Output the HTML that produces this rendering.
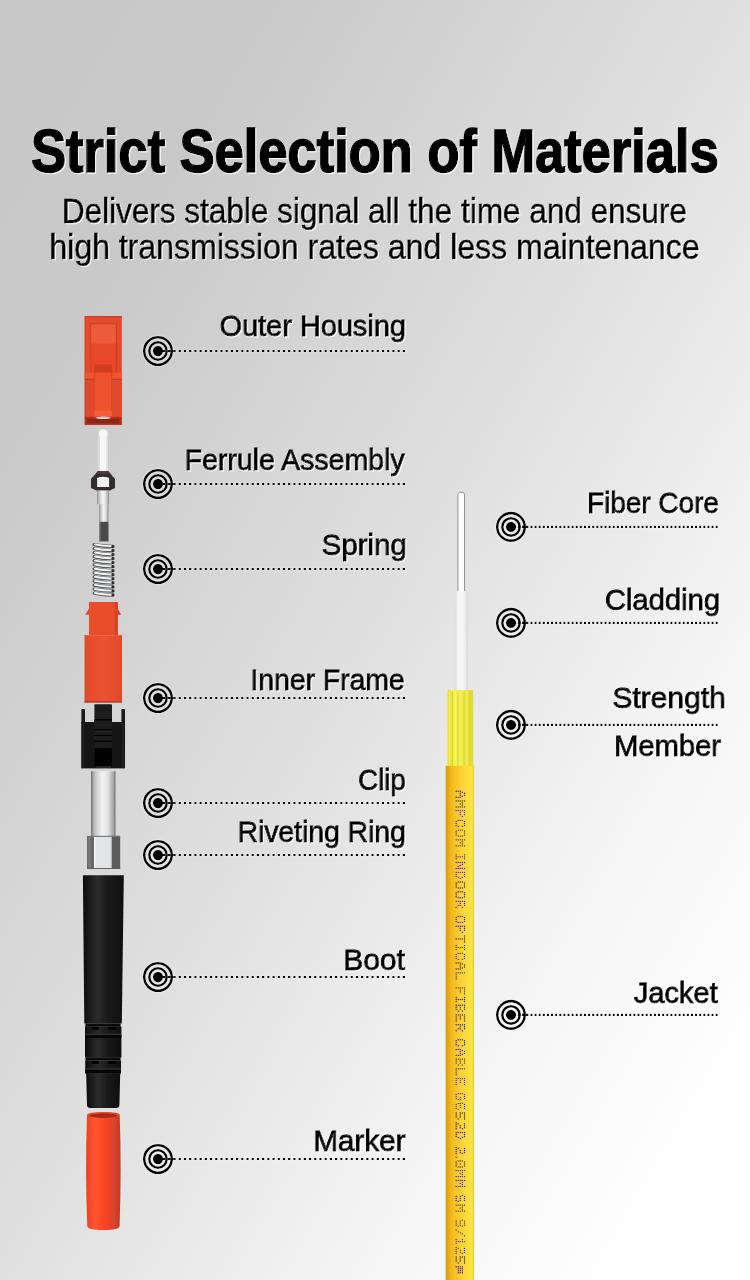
<!DOCTYPE html>
<html><head><meta charset="utf-8">
<style>
html,body{margin:0;padding:0;}
body{width:750px;height:1280px;overflow:hidden;position:relative;
background:linear-gradient(to bottom right,#c8c8c8 0%,#c9c9c9 18%,#e0e0e0 50%,#f6f6f6 75%,#ffffff 92%);
font-family:"Liberation Sans",sans-serif;}
svg{position:absolute;left:0;top:0;}
</style></head>
<body>
<svg width="750" height="1280" viewBox="0 0 750 1280">
<defs>
<filter id="sh" x="-5%" y="-30%" width="110%" height="160%">
<feOffset dx="1.3" dy="1.3" in="SourceAlpha" result="o"/>
<feFlood flood-color="#fff"/><feComposite in2="o" operator="in" result="w"/>
<feMerge><feMergeNode in="w"/><feMergeNode in="SourceGraphic"/></feMerge>
</filter>
<filter id="glow" x="-5%" y="-50%" width="110%" height="200%">
<feGaussianBlur in="SourceAlpha" stdDeviation="0.8" result="bd"/>
<feFlood flood-color="#fff" flood-opacity="0.7"/><feComposite in2="bd" operator="in" result="w"/>
<feMerge><feMergeNode in="w"/><feMergeNode in="SourceGraphic"/></feMerge>
</filter>
<clipPath id="iconclip"><rect x="150" y="0" width="24" height="1280"/><rect x="503" y="0" width="24" height="1280"/></clipPath>
<g id="tgt">
<circle cx="0" cy="0" r="13.75" fill="none" stroke="#000" stroke-width="2.6"/>
<circle cx="0" cy="0" r="8.7" fill="none" stroke="#000" stroke-width="2.6"/>
<circle cx="0" cy="0" r="5.15" fill="#000"/>
</g>
<linearGradient id="gSilver" x1="0" x2="1" y1="0" y2="0">
<stop offset="0" stop-color="#8c8c8c"/><stop offset="0.18" stop-color="#c8c8c8"/><stop offset="0.45" stop-color="#f4f4f4"/><stop offset="0.7" stop-color="#e2e2e2"/><stop offset="1" stop-color="#8e8e8e"/>
</linearGradient>
<linearGradient id="gBlack" x1="0" x2="1" y1="0" y2="0">
<stop offset="0" stop-color="#0c0c0c"/><stop offset="0.35" stop-color="#2a2b2c"/><stop offset="0.6" stop-color="#1a1a1b"/><stop offset="1" stop-color="#0e0e0e"/>
</linearGradient>
<linearGradient id="gRed" x1="0" x2="1" y1="0" y2="0">
<stop offset="0" stop-color="#f0401e"/><stop offset="0.25" stop-color="#ff5432"/><stop offset="0.55" stop-color="#f8441f"/><stop offset="0.8" stop-color="#d84530"/><stop offset="1" stop-color="#c23a22"/>
</linearGradient>
<linearGradient id="gOrange" x1="0" x2="1" y1="0" y2="0">
<stop offset="0" stop-color="#e24a2a"/><stop offset="0.5" stop-color="#ea5232"/><stop offset="1" stop-color="#e04a2c"/>
</linearGradient>
<linearGradient id="gCore" x1="0" x2="1" y1="0" y2="0">
<stop offset="0" stop-color="#a8a8a8"/><stop offset="0.4" stop-color="#ffffff"/><stop offset="0.7" stop-color="#f0f0f0"/><stop offset="1" stop-color="#b8b8b8"/>
</linearGradient>
<linearGradient id="gClad" x1="0" x2="1" y1="0" y2="0">
<stop offset="0" stop-color="#dcdcdc"/><stop offset="0.3" stop-color="#f6f6f6"/><stop offset="0.7" stop-color="#f4f4f4"/><stop offset="1" stop-color="#d8d8d8"/>
</linearGradient>
<linearGradient id="gJacket" x1="0" x2="1" y1="0" y2="0">
<stop offset="0" stop-color="#d49c0a"/><stop offset="0.2" stop-color="#f2b81e"/><stop offset="0.55" stop-color="#fdd232"/><stop offset="0.9" stop-color="#ffe444"/><stop offset="1" stop-color="#e8cc40"/>
</linearGradient>
<linearGradient id="gStrength" x1="0" x2="1" y1="0" y2="0">
<stop offset="0" stop-color="#e6e030"/><stop offset="0.3" stop-color="#f4f050"/><stop offset="0.6" stop-color="#eeea48"/><stop offset="1" stop-color="#e2da30"/>
</linearGradient>
<pattern id="dotpat" x="0" y="0" width="2" height="2" patternUnits="userSpaceOnUse">
<circle cx="1" cy="1" r="0.62" fill="#fff"/>
</pattern>
<mask id="dotmask" maskUnits="userSpaceOnUse" x="440" y="760" width="40" height="520">
<rect x="440" y="760" width="40" height="520" fill="url(#dotpat)"/>
</mask>

</defs>
<g filter="url(#sh)" fill="#000" font-family="Liberation Sans">
<text x="31.14" y="171.8" font-size="61.2" font-weight="bold" stroke="#000" stroke-width="1.7" textLength="687.72" lengthAdjust="spacingAndGlyphs">Strict Selection of Materials</text>
<text x="62.0" y="222.7" font-size="35" font-weight="normal" stroke="#000" stroke-width="0.65" textLength="624.98" lengthAdjust="spacingAndGlyphs">Delivers stable signal all the time and ensure</text>
<text x="49.47" y="258.7" font-size="35" font-weight="normal" stroke="#000" stroke-width="0.65" textLength="650.25" lengthAdjust="spacingAndGlyphs">high transmission rates and less maintenance</text>
</g>
<g filter="url(#sh)" fill="#000" font-family="Liberation Sans">
<text x="219.74" y="336" font-size="30" font-weight="normal" stroke="#000" stroke-width="0.95" textLength="186.35" lengthAdjust="spacingAndGlyphs">Outer Housing</text>
<text x="184.8" y="469.8" font-size="30" font-weight="normal" stroke="#000" stroke-width="0.95" textLength="219.96" lengthAdjust="spacingAndGlyphs">Ferrule Assembly</text>
<text x="321.72" y="555.2" font-size="30" font-weight="normal" stroke="#000" stroke-width="0.95" textLength="85.27" lengthAdjust="spacingAndGlyphs">Spring</text>
<text x="250.61" y="690.1" font-size="30" font-weight="normal" stroke="#000" stroke-width="0.95" textLength="154.16" lengthAdjust="spacingAndGlyphs">Inner Frame</text>
<text x="358.18" y="790" font-size="30" font-weight="normal" stroke="#000" stroke-width="0.95" textLength="47.66" lengthAdjust="spacingAndGlyphs">Clip</text>
<text x="237.71" y="841.6" font-size="30" font-weight="normal" stroke="#000" stroke-width="0.95" textLength="168.33" lengthAdjust="spacingAndGlyphs">Riveting Ring</text>
<text x="343.51" y="969.9" font-size="30" font-weight="normal" stroke="#000" stroke-width="0.95" textLength="61.51" lengthAdjust="spacingAndGlyphs">Boot</text>
<text x="313.42" y="1151.4" font-size="30" font-weight="normal" stroke="#000" stroke-width="0.95" textLength="92.22" lengthAdjust="spacingAndGlyphs">Marker</text>
<text x="587.34" y="513.1" font-size="30" font-weight="normal" stroke="#000" stroke-width="0.95" textLength="131.63" lengthAdjust="spacingAndGlyphs">Fiber Core</text>
<text x="604.93" y="609.5" font-size="30" font-weight="normal" stroke="#000" stroke-width="0.95" textLength="115.26" lengthAdjust="spacingAndGlyphs">Cladding</text>
<text x="612.5" y="708.3" font-size="30" font-weight="normal" stroke="#000" stroke-width="0.95" textLength="113.42" lengthAdjust="spacingAndGlyphs">Strength</text>
<text x="614.26" y="756" font-size="30" font-weight="normal" stroke="#000" stroke-width="0.95" textLength="106.77" lengthAdjust="spacingAndGlyphs">Member</text>
<text x="633.9" y="1003.4" font-size="30" font-weight="normal" stroke="#000" stroke-width="0.95" textLength="83.83" lengthAdjust="spacingAndGlyphs">Jacket</text>
</g>
<g stroke="#000" filter="url(#glow)">
<line x1="405" y1="351" x2="158" y2="351" stroke-width="2.1" stroke-dasharray="2.3 2.911"/>
<line x1="405" y1="484" x2="158" y2="484" stroke-width="2.1" stroke-dasharray="2.3 2.911"/>
<line x1="405" y1="569" x2="158" y2="569" stroke-width="2.1" stroke-dasharray="2.3 2.911"/>
<line x1="405" y1="698" x2="158" y2="698" stroke-width="2.1" stroke-dasharray="2.3 2.911"/>
<line x1="405" y1="803" x2="158" y2="803" stroke-width="2.1" stroke-dasharray="2.3 2.911"/>
<line x1="405" y1="855" x2="158" y2="855" stroke-width="2.1" stroke-dasharray="2.3 2.911"/>
<line x1="405" y1="977" x2="158" y2="977" stroke-width="2.1" stroke-dasharray="2.3 2.911"/>
<line x1="405" y1="1159" x2="158" y2="1159" stroke-width="2.1" stroke-dasharray="2.3 2.911"/>
<line x1="717.7" y1="526.9" x2="511" y2="526.9" stroke-width="2.1" stroke-dasharray="2.1 2.015"/>
<line x1="717.7" y1="622.9" x2="511" y2="622.9" stroke-width="2.1" stroke-dasharray="2.1 2.015"/>
<line x1="717.7" y1="724.9" x2="511" y2="724.9" stroke-width="2.1" stroke-dasharray="2.1 2.015"/>
<line x1="717.7" y1="1014.9" x2="511" y2="1014.9" stroke-width="2.1" stroke-dasharray="2.1 2.015"/>
</g>
<g filter="url(#glow)">
<use href="#tgt" x="158" y="351"/>
<use href="#tgt" x="158" y="484"/>
<use href="#tgt" x="158" y="569"/>
<use href="#tgt" x="158" y="698"/>
<use href="#tgt" x="158" y="803"/>
<use href="#tgt" x="158" y="855"/>
<use href="#tgt" x="158" y="977"/>
<use href="#tgt" x="158" y="1159"/>
<use href="#tgt" x="511" y="526.9"/>
<use href="#tgt" x="511" y="622.9"/>
<use href="#tgt" x="511" y="724.9"/>
<use href="#tgt" x="511" y="1014.9"/>
</g>
<g stroke="#000" clip-path="url(#iconclip)">
<line x1="405" y1="351" x2="158" y2="351" stroke-width="2.1" stroke-dasharray="2.3 2.911"/>
<line x1="405" y1="484" x2="158" y2="484" stroke-width="2.1" stroke-dasharray="2.3 2.911"/>
<line x1="405" y1="569" x2="158" y2="569" stroke-width="2.1" stroke-dasharray="2.3 2.911"/>
<line x1="405" y1="698" x2="158" y2="698" stroke-width="2.1" stroke-dasharray="2.3 2.911"/>
<line x1="405" y1="803" x2="158" y2="803" stroke-width="2.1" stroke-dasharray="2.3 2.911"/>
<line x1="405" y1="855" x2="158" y2="855" stroke-width="2.1" stroke-dasharray="2.3 2.911"/>
<line x1="405" y1="977" x2="158" y2="977" stroke-width="2.1" stroke-dasharray="2.3 2.911"/>
<line x1="405" y1="1159" x2="158" y2="1159" stroke-width="2.1" stroke-dasharray="2.3 2.911"/>
<line x1="717.7" y1="526.9" x2="511" y2="526.9" stroke-width="2.1" stroke-dasharray="2.1 2.015"/>
<line x1="717.7" y1="622.9" x2="511" y2="622.9" stroke-width="2.1" stroke-dasharray="2.1 2.015"/>
<line x1="717.7" y1="724.9" x2="511" y2="724.9" stroke-width="2.1" stroke-dasharray="2.1 2.015"/>
<line x1="717.7" y1="1014.9" x2="511" y2="1014.9" stroke-width="2.1" stroke-dasharray="2.1 2.015"/>
</g>
<g id="housing">
<rect x="84.7" y="316.2" width="37.1" height="108.7" fill="#e64a2c"/>
<rect x="84.7" y="316.2" width="37.1" height="1.2" fill="#c83a22"/>
<rect x="84.7" y="317" width="1.2" height="100" fill="#d8452a"/>
<rect x="90.3" y="323.3" width="26.9" height="49.3" fill="#c94024"/>
<rect x="91.3" y="324.5" width="24.4" height="48" fill="#e64a2b"/>
<rect x="91.3" y="324.5" width="24.4" height="19" fill="#ee5b3c"/>
<rect x="84.7" y="372.6" width="37.1" height="6.2" fill="#f0552f"/>
<rect x="84.7" y="378.8" width="37.1" height="1.2" fill="#c23d24"/>
<rect x="85.9" y="380" width="8.5" height="36.8" fill="#dd4a30"/>
<rect x="112.2" y="380" width="9.6" height="36.8" fill="#dc4a31"/>
<rect x="94.4" y="364.4" width="17.8" height="8.4" fill="#d23c1f"/>
<rect x="94.4" y="372.6" width="17.8" height="44.2" fill="#ef522f"/>
<rect x="94.4" y="372.6" width="0.9" height="44.2" fill="#d8442a"/>
<rect x="111.3" y="372.6" width="0.9" height="44.2" fill="#d4432a"/>
<rect x="94.4" y="410.5" width="17.8" height="6.3" fill="#f25e3a"/>
<rect x="84.7" y="416.8" width="37.1" height="8.1" fill="#b8331c"/>
<rect x="87" y="418.5" width="32.5" height="5" fill="#8e2616"/>
<ellipse cx="103.2" cy="417.8" rx="7.5" ry="1.3" fill="#d8d0cc"/>
</g>
<g id="ferrule">
<rect x="98.6" y="429.2" width="9" height="44" rx="4.2" fill="#f7f7f7"/>
<rect x="98.6" y="436" width="1.2" height="36" fill="#d4d4d4"/>
<rect x="106.4" y="436" width="1.2" height="36" fill="#dadada"/>
<path d="M98 471 H108.2 L115 479 V488 L110 490.6 H96.5 L91 488 V479 Z" fill="#342c2c"/>
<path d="M98 471 H108.2 L110.5 473.8 H95.7 Z" fill="#4a3c3c"/>
<path d="M97.1 478 Q103.1 475.6 109.1 478 V487.1 H97.1 Z" fill="#eef0f2"/>
<rect x="97.1" y="490.6" width="12" height="13.7" fill="url(#gSilver)"/>
<rect x="99.2" y="504.3" width="9.3" height="17.5" fill="url(#gSilver)"/>
<rect x="99.2" y="521.8" width="9.3" height="19.6" fill="#4a4a4a"/>
<rect x="99.2" y="521.8" width="1.2" height="19.6" fill="#8a8a8a"/>
</g>
<g id="spring" fill="none" stroke-linecap="round">
<path d="M94.2 544.60 Q103.5 546.50 113 546.40" stroke="#5a5a5a" stroke-width="3.4"/>
<path d="M94.2 548.65 Q103.5 550.55 113 550.45" stroke="#5a5a5a" stroke-width="3.4"/>
<path d="M94.2 552.70 Q103.5 554.60 113 554.50" stroke="#5a5a5a" stroke-width="3.4"/>
<path d="M94.2 556.75 Q103.5 558.65 113 558.55" stroke="#5a5a5a" stroke-width="3.4"/>
<path d="M94.2 560.80 Q103.5 562.70 113 562.60" stroke="#5a5a5a" stroke-width="3.4"/>
<path d="M94.2 564.85 Q103.5 566.75 113 566.65" stroke="#5a5a5a" stroke-width="3.4"/>
<path d="M94.2 568.90 Q103.5 570.80 113 570.70" stroke="#5a5a5a" stroke-width="3.4"/>
<path d="M94.2 572.95 Q103.5 574.85 113 574.75" stroke="#5a5a5a" stroke-width="3.4"/>
<path d="M94.2 577.00 Q103.5 578.90 113 578.80" stroke="#5a5a5a" stroke-width="3.4"/>
<path d="M94.2 581.05 Q103.5 582.95 113 582.85" stroke="#5a5a5a" stroke-width="3.4"/>
<path d="M94.2 585.10 Q103.5 587.00 113 586.90" stroke="#5a5a5a" stroke-width="3.4"/>
<path d="M94.2 589.15 Q103.5 591.05 113 590.95" stroke="#5a5a5a" stroke-width="3.4"/>
<path d="M94.2 593.20 Q103.5 595.10 113 595.00" stroke="#5a5a5a" stroke-width="3.4"/>
<path d="M95 544.40 Q103.5 546.20 111.5 546.10" stroke="#f4f6f8" stroke-width="1.9"/>
<circle cx="112.7" cy="546.40" r="1.3" fill="#2a2a2a" stroke="none"/>
<path d="M95 548.45 Q103.5 550.25 111.5 550.15" stroke="#f4f6f8" stroke-width="1.9"/>
<circle cx="112.7" cy="550.45" r="1.3" fill="#2a2a2a" stroke="none"/>
<path d="M95 552.50 Q103.5 554.30 111.5 554.20" stroke="#f4f6f8" stroke-width="1.9"/>
<circle cx="112.7" cy="554.50" r="1.3" fill="#2a2a2a" stroke="none"/>
<path d="M95 556.55 Q103.5 558.35 111.5 558.25" stroke="#f4f6f8" stroke-width="1.9"/>
<circle cx="112.7" cy="558.55" r="1.3" fill="#2a2a2a" stroke="none"/>
<path d="M95 560.60 Q103.5 562.40 111.5 562.30" stroke="#f4f6f8" stroke-width="1.9"/>
<circle cx="112.7" cy="562.60" r="1.3" fill="#2a2a2a" stroke="none"/>
<path d="M95 564.65 Q103.5 566.45 111.5 566.35" stroke="#f4f6f8" stroke-width="1.9"/>
<circle cx="112.7" cy="566.65" r="1.3" fill="#2a2a2a" stroke="none"/>
<path d="M95 568.70 Q103.5 570.50 111.5 570.40" stroke="#f4f6f8" stroke-width="1.9"/>
<circle cx="112.7" cy="570.70" r="1.3" fill="#2a2a2a" stroke="none"/>
<path d="M95 572.75 Q103.5 574.55 111.5 574.45" stroke="#f4f6f8" stroke-width="1.9"/>
<circle cx="112.7" cy="574.75" r="1.3" fill="#2a2a2a" stroke="none"/>
<path d="M95 576.80 Q103.5 578.60 111.5 578.50" stroke="#f4f6f8" stroke-width="1.9"/>
<circle cx="112.7" cy="578.80" r="1.3" fill="#2a2a2a" stroke="none"/>
<path d="M95 580.85 Q103.5 582.65 111.5 582.55" stroke="#f4f6f8" stroke-width="1.9"/>
<circle cx="112.7" cy="582.85" r="1.3" fill="#2a2a2a" stroke="none"/>
<path d="M95 584.90 Q103.5 586.70 111.5 586.60" stroke="#f4f6f8" stroke-width="1.9"/>
<circle cx="112.7" cy="586.90" r="1.3" fill="#2a2a2a" stroke="none"/>
<path d="M95 588.95 Q103.5 590.75 111.5 590.65" stroke="#f4f6f8" stroke-width="1.9"/>
<circle cx="112.7" cy="590.95" r="1.3" fill="#2a2a2a" stroke="none"/>
<path d="M95 593.00 Q103.5 594.80 111.5 594.70" stroke="#f4f6f8" stroke-width="1.9"/>
<circle cx="112.7" cy="595.00" r="1.3" fill="#2a2a2a" stroke="none"/>
</g>
<g id="innerframe">
<rect x="89" y="602" width="28.8" height="33.5" fill="#e84d2c"/>
<rect x="114.6" y="602" width="3.2" height="33.5" fill="#d64426"/>
<path d="M89 608.4 L85.2 614.7 H89 Z" fill="#e04a2a"/>
<path d="M117.8 608.4 L121 614.7 H117.8 Z" fill="#c84020"/>
<rect x="84.5" y="635" width="37.5" height="67.5" fill="url(#gOrange)"/>
<rect x="84.5" y="635" width="37.5" height="1" fill="#f06040"/>
<rect x="84.5" y="701.3" width="37.5" height="1.2" fill="#a83a22"/>
</g>
<g id="clip">
<rect x="81.4" y="709" width="3.6" height="14" rx="0.8" fill="#1a1a1a"/>
<rect x="121.4" y="709" width="3.6" height="14" rx="0.8" fill="#1a1a1a"/>
<rect x="94.4" y="704.2" width="17.6" height="20" rx="0.8" fill="#1c1c1c"/>
<rect x="81.2" y="722" width="43.8" height="46.4" fill="#151515"/>
<rect x="82.6" y="723" width="1.1" height="44.5" fill="#2c2c2c"/>
<rect x="122.4" y="723" width="1.1" height="44.5" fill="#2a2a2a"/>
<rect x="94.4" y="720" width="17.6" height="28" fill="#1c1c1c"/>
<rect x="94.4" y="719.1" width="17.6" height="1.4" fill="#000"/>
<rect x="94.4" y="729.2" width="17.6" height="1.1" fill="#000"/>
<rect x="94.4" y="734.9" width="17.6" height="1.1" fill="#000"/>
<rect x="94.4" y="740.7" width="17.6" height="1.1" fill="#000"/>
<rect x="94.6" y="747.9" width="17.4" height="19.8" rx="1.5" fill="#020202"/>
<rect x="95.5" y="766.6" width="15.6" height="0.9" fill="#4a5050"/>
</g>
<g id="rivet">
<rect x="91" y="771.3" width="24.4" height="64.7" fill="url(#gSilver)"/>
<rect x="91" y="771.3" width="1.3" height="64.7" fill="#7a7a7a"/>
<rect x="114.1" y="771.3" width="1.3" height="64.7" fill="#858585"/>
<rect x="87" y="835.9" width="33.1" height="33.1" fill="#686868"/>
<rect x="88.5" y="836.5" width="2" height="32" fill="#7c7c7c"/>
<rect x="94" y="836.8" width="18" height="31.4" fill="#e2e4e6"/>
<rect x="94" y="836.8" width="1.4" height="31.4" fill="#fafafa"/>
<rect x="110.8" y="836.8" width="1.2" height="31.4" fill="#b8b8b8"/>
<rect x="112" y="835.9" width="8.1" height="33.1" fill="#5c5c5c"/>
<rect x="87" y="835.9" width="33.1" height="0.9" fill="#7a7a7a"/>
<rect x="87" y="868.2" width="33.1" height="0.8" fill="#5a5a5a"/>
</g>
<g id="boot">
<path d="M82.9 875.3 H123.8 L121.8 1023.6 H84.3 Z" fill="url(#gBlack)"/>
<rect x="85.4" y="1023.4" width="35.2" height="3.2" fill="#0a0a0a"/>
<rect x="85" y="1026.3" width="36.4" height="31.4" rx="1" fill="url(#gBlack)"/>
<rect x="85.4" y="1057.5" width="35.2" height="3" fill="#0a0a0a"/>
<rect x="85.2" y="1060.3" width="35.8" height="13.5" rx="1" fill="url(#gBlack)"/>
<path d="M86.2 1073.6 H120.2 L119.4 1105 Q119.4 1108 116 1108 H90.5 Q87 1108 87 1105 Z" fill="url(#gBlack)"/>
<rect x="91.3" y="1026.8" width="7.8" height="3" rx="1.5" fill="#000"/>
<rect x="108" y="1026.8" width="8.3" height="3" rx="1.5" fill="#000"/>
<rect x="85" y="1035.2" width="36.4" height="2.8" fill="#050505"/>
<rect x="85" y="1033.6" width="36.4" height="1.4" fill="#2e3032"/>
<rect x="91.3" y="1061" width="7.8" height="3" rx="1.5" fill="#000"/>
<rect x="108" y="1061" width="8.3" height="3" rx="1.5" fill="#000"/>
<rect x="85.2" y="1069.8" width="35.8" height="3.6" fill="#050505"/>
<rect x="85.2" y="1068.2" width="35.8" height="1.4" fill="#2e3032"/>
</g>
<g id="marker">
<path d="M87.1 1115 Q87.1 1112.1 103.4 1112.1 Q119.7 1112.1 119.7 1115 Q121.6 1170 119.6 1226 Q119.6 1230 103.4 1230 Q87.3 1230 87.3 1226 Q84.9 1170 87.1 1115 Z" fill="url(#gRed)"/>
<ellipse cx="103.4" cy="1115.2" rx="15.6" ry="2.9" fill="#e85030"/>
<ellipse cx="103.4" cy="1115.6" rx="14" ry="2.3" fill="#a82818"/>
</g>

<g id="fiber">
<path d="M457.4 591.5 V494 L459 491.8 H463.5 L465.1 494 V591.5 Z" fill="#fdfdfd"/>
<path d="M457.9 591.5 V494.2 L459.2 492.3 H463.3 L464.6 494.2 V591.5" fill="none" stroke="#8c8c8c" stroke-width="1"/>
<rect x="459" y="494" width="4.4" height="97" fill="#ffffff"/>
<rect x="454.25" y="591" width="13.75" height="100" fill="url(#gClad)"/>
<path d="M447.5 766.5 V690.5 Q449 689 450.5 690 Q452 689.8 453.5 690.6 L454.5 689.6 Q456 689.2 457.5 690.2 Q459 689.4 460.5 690.3 Q462 689.5 463.5 690.4 Q465 689.6 466.5 690.2 Q468 689.3 469.5 690.3 Q471.5 689.3 473.2 690.2 V766.5 Z" fill="url(#gStrength)"/>
<g stroke-width="1" opacity="0.85">
<line x1="449.5" y1="691" x2="449.5" y2="766" stroke="#f6f266"/>
<line x1="452.3" y1="692" x2="452.3" y2="766" stroke="#d6cc22"/>
<line x1="455" y1="691" x2="455" y2="766" stroke="#fbf870"/>
<line x1="458" y1="692" x2="458" y2="766" stroke="#dcd42a"/>
<line x1="461" y1="691" x2="461" y2="766" stroke="#f8f46a"/>
<line x1="464" y1="692" x2="464" y2="766" stroke="#d8d02a"/>
<line x1="467" y1="691" x2="467" y2="766" stroke="#f6f268"/>
<line x1="470" y1="692" x2="470" y2="766" stroke="#d6ce2a"/>
</g>
<rect x="445.7" y="765.9" width="28.4" height="520" fill="url(#gJacket)"/>
<path d="M464.5 793.2h0M464.5 795.2h0M462.4 792.2h0M462.4 796.2h0M460.3 791.2h0M460.3 793.2h0M460.3 795.2h0M460.3 797.2h0M458.3 791.2h0M458.3 797.2h0M456.2 791.2h0M456.2 797.2h0M464.5 800.9h0M464.5 806.9h0M462.4 800.9h0M462.4 802.9h0M462.4 804.9h0M462.4 806.9h0M460.3 800.9h0M460.3 803.9h0M460.3 806.9h0M458.3 800.9h0M458.3 806.9h0M456.2 800.9h0M456.2 806.9h0M464.5 810.6h0M464.5 812.6h0M464.5 814.6h0M462.4 810.6h0M462.4 816.6h0M460.3 810.6h0M460.3 812.6h0M460.3 814.6h0M458.3 810.6h0M456.2 810.6h0M464.5 821.4h0M464.5 823.4h0M464.5 825.4h0M462.4 820.4h0M462.4 826.4h0M460.3 820.4h0M458.3 820.4h0M458.3 826.4h0M456.2 821.4h0M456.2 823.4h0M456.2 825.4h0M464.5 831.1h0M464.5 833.1h0M464.5 835.1h0M462.4 830.1h0M462.4 836.1h0M460.3 830.1h0M460.3 836.1h0M458.3 830.1h0M458.3 836.1h0M456.2 831.1h0M456.2 833.1h0M456.2 835.1h0M464.5 839.8h0M464.5 845.8h0M462.4 839.8h0M462.4 841.8h0M462.4 843.8h0M462.4 845.8h0M460.3 839.8h0M460.3 842.8h0M460.3 845.8h0M458.3 839.8h0M458.3 845.8h0M456.2 839.8h0M456.2 845.8h0M464.5 854.8h0M464.5 856.8h0M464.5 858.8h0M462.4 856.8h0M460.3 856.8h0M458.3 856.8h0M456.2 854.8h0M456.2 856.8h0M456.2 858.8h0M464.5 862.5h0M464.5 868.5h0M462.4 862.5h0M462.4 864.5h0M462.4 868.5h0M460.3 862.5h0M460.3 865.5h0M460.3 868.5h0M458.3 862.5h0M458.3 866.5h0M458.3 868.5h0M456.2 862.5h0M456.2 868.5h0M464.5 872.3h0M464.5 874.3h0M464.5 876.3h0M462.4 872.3h0M462.4 877.3h0M460.3 872.3h0M460.3 878.3h0M458.3 872.3h0M458.3 877.3h0M456.2 872.3h0M456.2 874.3h0M456.2 876.3h0M464.5 883.0h0M464.5 885.0h0M464.5 887.0h0M462.4 882.0h0M462.4 888.0h0M460.3 882.0h0M460.3 888.0h0M458.3 882.0h0M458.3 888.0h0M456.2 883.0h0M456.2 885.0h0M456.2 887.0h0M464.5 892.7h0M464.5 894.7h0M464.5 896.7h0M462.4 891.7h0M462.4 897.7h0M460.3 891.7h0M460.3 897.7h0M458.3 891.7h0M458.3 897.7h0M456.2 892.7h0M456.2 894.7h0M456.2 896.7h0M464.5 901.4h0M464.5 903.4h0M464.5 905.4h0M462.4 901.4h0M462.4 907.4h0M460.3 901.4h0M460.3 903.4h0M460.3 905.4h0M458.3 901.4h0M458.3 905.4h0M456.2 901.4h0M456.2 907.4h0M464.5 917.4h0M464.5 919.4h0M464.5 921.4h0M462.4 916.4h0M462.4 922.4h0M460.3 916.4h0M460.3 922.4h0M458.3 916.4h0M458.3 922.4h0M456.2 917.4h0M456.2 919.4h0M456.2 921.4h0M464.5 926.2h0M464.5 928.2h0M464.5 930.2h0M462.4 926.2h0M462.4 932.2h0M460.3 926.2h0M460.3 928.2h0M460.3 930.2h0M458.3 926.2h0M456.2 926.2h0M464.5 935.9h0M464.5 937.9h0M464.5 939.9h0M464.5 941.9h0M462.4 938.9h0M460.3 938.9h0M458.3 938.9h0M456.2 938.9h0M464.5 945.6h0M464.5 947.6h0M464.5 949.6h0M462.4 947.6h0M460.3 947.6h0M458.3 947.6h0M456.2 945.6h0M456.2 947.6h0M456.2 949.6h0M464.5 954.3h0M464.5 956.3h0M464.5 958.3h0M462.4 953.3h0M462.4 959.3h0M460.3 953.3h0M458.3 953.3h0M458.3 959.3h0M456.2 954.3h0M456.2 956.3h0M456.2 958.3h0M464.5 965.0h0M464.5 967.0h0M462.4 964.0h0M462.4 968.0h0M460.3 963.0h0M460.3 965.0h0M460.3 967.0h0M460.3 969.0h0M458.3 963.0h0M458.3 969.0h0M456.2 963.0h0M456.2 969.0h0M464.5 972.8h0M462.4 972.8h0M460.3 972.8h0M458.3 972.8h0M456.2 972.8h0M456.2 974.8h0M456.2 976.8h0M456.2 978.8h0M464.5 987.8h0M464.5 989.8h0M464.5 991.8h0M464.5 993.8h0M462.4 987.8h0M460.3 987.8h0M460.3 989.8h0M460.3 991.8h0M458.3 987.8h0M456.2 987.8h0M464.5 997.5h0M464.5 999.5h0M464.5 1001.5h0M462.4 999.5h0M460.3 999.5h0M458.3 999.5h0M456.2 997.5h0M456.2 999.5h0M456.2 1001.5h0M464.5 1005.2h0M464.5 1007.2h0M464.5 1009.2h0M462.4 1005.2h0M462.4 1011.2h0M460.3 1005.2h0M460.3 1007.2h0M460.3 1009.2h0M458.3 1005.2h0M458.3 1011.2h0M456.2 1005.2h0M456.2 1007.2h0M456.2 1009.2h0M464.5 1014.9h0M464.5 1016.9h0M464.5 1018.9h0M464.5 1020.9h0M462.4 1014.9h0M460.3 1014.9h0M460.3 1016.9h0M460.3 1018.9h0M458.3 1014.9h0M456.2 1014.9h0M456.2 1016.9h0M456.2 1018.9h0M456.2 1020.9h0M464.5 1024.7h0M464.5 1026.7h0M464.5 1028.7h0M462.4 1024.7h0M462.4 1030.7h0M460.3 1024.7h0M460.3 1026.7h0M460.3 1028.7h0M458.3 1024.7h0M458.3 1028.7h0M456.2 1024.7h0M456.2 1030.7h0M464.5 1040.7h0M464.5 1042.7h0M464.5 1044.7h0M462.4 1039.7h0M462.4 1045.7h0M460.3 1039.7h0M458.3 1039.7h0M458.3 1045.7h0M456.2 1040.7h0M456.2 1042.7h0M456.2 1044.7h0M464.5 1051.4h0M464.5 1053.4h0M462.4 1050.4h0M462.4 1054.4h0M460.3 1049.4h0M460.3 1051.4h0M460.3 1053.4h0M460.3 1055.4h0M458.3 1049.4h0M458.3 1055.4h0M456.2 1049.4h0M456.2 1055.4h0M464.5 1059.1h0M464.5 1061.1h0M464.5 1063.1h0M462.4 1059.1h0M462.4 1065.1h0M460.3 1059.1h0M460.3 1061.1h0M460.3 1063.1h0M458.3 1059.1h0M458.3 1065.1h0M456.2 1059.1h0M456.2 1061.1h0M456.2 1063.1h0M464.5 1068.8h0M462.4 1068.8h0M460.3 1068.8h0M458.3 1068.8h0M456.2 1068.8h0M456.2 1070.8h0M456.2 1072.8h0M456.2 1074.8h0M464.5 1078.6h0M464.5 1080.6h0M464.5 1082.6h0M464.5 1084.6h0M462.4 1078.6h0M460.3 1078.6h0M460.3 1080.6h0M460.3 1082.6h0M458.3 1078.6h0M456.2 1078.6h0M456.2 1080.6h0M456.2 1082.6h0M456.2 1084.6h0M464.5 1094.6h0M464.5 1096.6h0M464.5 1098.6h0M462.4 1093.6h0M460.3 1093.6h0M460.3 1097.6h0M460.3 1099.6h0M458.3 1093.6h0M458.3 1099.6h0M456.2 1094.6h0M456.2 1096.6h0M456.2 1098.6h0M464.5 1104.3h0M464.5 1106.3h0M464.5 1108.3h0M462.4 1103.3h0M460.3 1103.3h0M460.3 1105.3h0M460.3 1107.3h0M458.3 1103.3h0M458.3 1109.3h0M456.2 1104.3h0M456.2 1106.3h0M456.2 1108.3h0M464.5 1113.0h0M464.5 1115.0h0M464.5 1117.0h0M464.5 1119.0h0M462.4 1113.0h0M460.3 1113.0h0M460.3 1115.0h0M460.3 1117.0h0M458.3 1119.0h0M456.2 1113.0h0M456.2 1115.0h0M456.2 1117.0h0M464.5 1123.7h0M464.5 1125.7h0M464.5 1127.7h0M462.4 1128.7h0M460.3 1125.7h0M460.3 1127.7h0M458.3 1123.7h0M456.2 1122.7h0M456.2 1124.7h0M456.2 1126.7h0M456.2 1128.7h0M464.5 1132.5h0M464.5 1134.5h0M464.5 1136.5h0M462.4 1132.5h0M462.4 1137.5h0M460.3 1132.5h0M460.3 1138.5h0M458.3 1132.5h0M458.3 1137.5h0M456.2 1132.5h0M456.2 1134.5h0M456.2 1136.5h0M464.5 1148.5h0M464.5 1150.5h0M464.5 1152.5h0M462.4 1153.5h0M460.3 1150.5h0M460.3 1152.5h0M458.3 1148.5h0M456.2 1147.5h0M456.2 1149.5h0M456.2 1151.5h0M456.2 1153.5h0M456.2 1157.2h0M464.5 1161.9h0M464.5 1163.9h0M464.5 1165.9h0M462.4 1160.9h0M462.4 1166.9h0M460.3 1160.9h0M460.3 1163.9h0M460.3 1166.9h0M458.3 1160.9h0M458.3 1166.9h0M456.2 1161.9h0M456.2 1163.9h0M456.2 1165.9h0M464.5 1170.6h0M464.5 1176.6h0M462.4 1170.6h0M462.4 1172.6h0M462.4 1174.6h0M462.4 1176.6h0M460.3 1170.6h0M460.3 1173.6h0M460.3 1176.6h0M458.3 1170.6h0M458.3 1176.6h0M456.2 1170.6h0M456.2 1176.6h0M464.5 1180.4h0M464.5 1186.4h0M462.4 1180.4h0M462.4 1182.4h0M462.4 1184.4h0M462.4 1186.4h0M460.3 1180.4h0M460.3 1183.4h0M460.3 1186.4h0M458.3 1180.4h0M458.3 1186.4h0M456.2 1180.4h0M456.2 1186.4h0M464.5 1196.4h0M464.5 1198.4h0M464.5 1200.4h0M462.4 1195.4h0M460.3 1196.4h0M460.3 1198.4h0M460.3 1200.4h0M458.3 1201.4h0M456.2 1196.4h0M456.2 1198.4h0M456.2 1200.4h0M464.5 1205.1h0M464.5 1211.1h0M462.4 1205.1h0M462.4 1207.1h0M462.4 1209.1h0M462.4 1211.1h0M460.3 1205.1h0M460.3 1208.1h0M460.3 1211.1h0M458.3 1205.1h0M458.3 1211.1h0M456.2 1205.1h0M456.2 1211.1h0M464.5 1221.1h0M464.5 1223.1h0M464.5 1225.1h0M462.4 1220.1h0M462.4 1226.1h0M460.3 1221.1h0M460.3 1223.1h0M460.3 1225.1h0M458.3 1226.1h0M456.2 1221.1h0M456.2 1223.1h0M456.2 1225.1h0M464.5 1235.8h0M462.4 1233.8h0M460.3 1232.8h0M458.3 1231.8h0M456.2 1229.8h0M464.5 1241.6h0M462.4 1239.6h0M462.4 1241.6h0M460.3 1241.6h0M458.3 1241.6h0M456.2 1239.6h0M456.2 1241.6h0M456.2 1243.6h0M464.5 1248.3h0M464.5 1250.3h0M464.5 1252.3h0M462.4 1253.3h0M460.3 1250.3h0M460.3 1252.3h0M458.3 1248.3h0M456.2 1247.3h0M456.2 1249.3h0M456.2 1251.3h0M456.2 1253.3h0M464.5 1257.0h0M464.5 1259.0h0M464.5 1261.0h0M464.5 1263.0h0M462.4 1257.0h0M460.3 1257.0h0M460.3 1259.0h0M460.3 1261.0h0M458.3 1263.0h0M456.2 1257.0h0M456.2 1259.0h0M456.2 1261.0h0M462.4 1266.7h0M462.4 1268.7h0M462.4 1270.7h0M462.4 1272.7h0M460.3 1266.7h0M460.3 1268.7h0M460.3 1270.7h0M460.3 1272.7h0M458.3 1266.7h0M458.3 1268.7h0M458.3 1270.7h0M458.3 1272.7h0M456.2 1266.7h0" stroke="#2e2818" stroke-width="1.35" stroke-linecap="round" fill="none"/>
</g>

</svg>
</body></html>
